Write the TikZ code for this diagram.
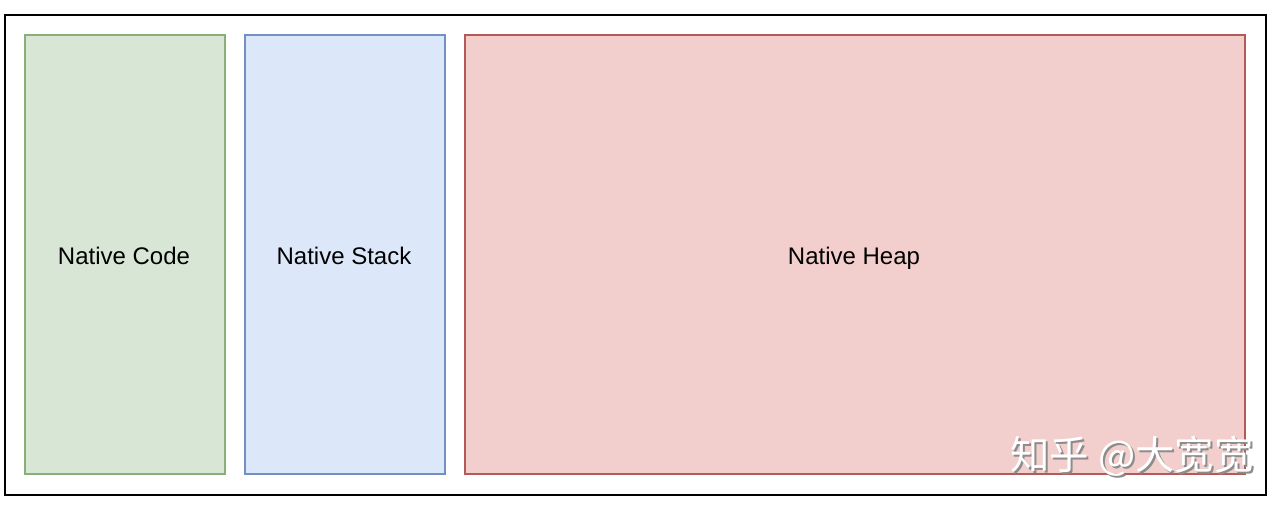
\documentclass[tikz,border=0pt]{standalone}
\usepackage{fontspec}
\setmainfont{Liberation Sans}
\newfontfamily\cjk{Noto Sans CJK SC}
\definecolor{gfill}{HTML}{D7E6D5}\definecolor{gline}{HTML}{8AAE78}
\definecolor{bfill}{HTML}{DCE7F9}\definecolor{bline}{HTML}{7490C0}
\definecolor{rfill}{HTML}{F2CFCD}\definecolor{rline}{HTML}{B35A57}
\begin{document}
\begin{tikzpicture}[x=0.75pt,y=-0.75pt,
  region/.style={line width=1.1pt},
  lbl/.style={font=\fontsize{18}{20}\selectfont, text=black, text height=13pt, text depth=0pt}]
\useasboundingbox (0,0) rectangle (1286,510);
\draw[line width=1.5pt] (5,15) rectangle (1266,495);
\draw[region, draw=gline, fill=gfill] (25,35) rectangle (225,474);
\draw[region, draw=bline, fill=bfill] (245,35) rectangle (445,474);
\draw[region, draw=rline, fill=rfill] (465,35) rectangle (1245,474);
\node[lbl] (code) at (124,256) {Native Code};
\node[lbl] (stack) at (344,256) {Native Stack};
\node[lbl] (heap) at (854,256) {Native Heap};
\node[font=\cjk\fontsize{29.5}{32}\selectfont, text=black!45] (wms) at (1134,458) {知乎 @大宽宽};
\node[font=\cjk\fontsize{29.5}{32}\selectfont, text=white] (wm) at (1132,456) {知乎 @大宽宽};
\end{tikzpicture}
\end{document}
